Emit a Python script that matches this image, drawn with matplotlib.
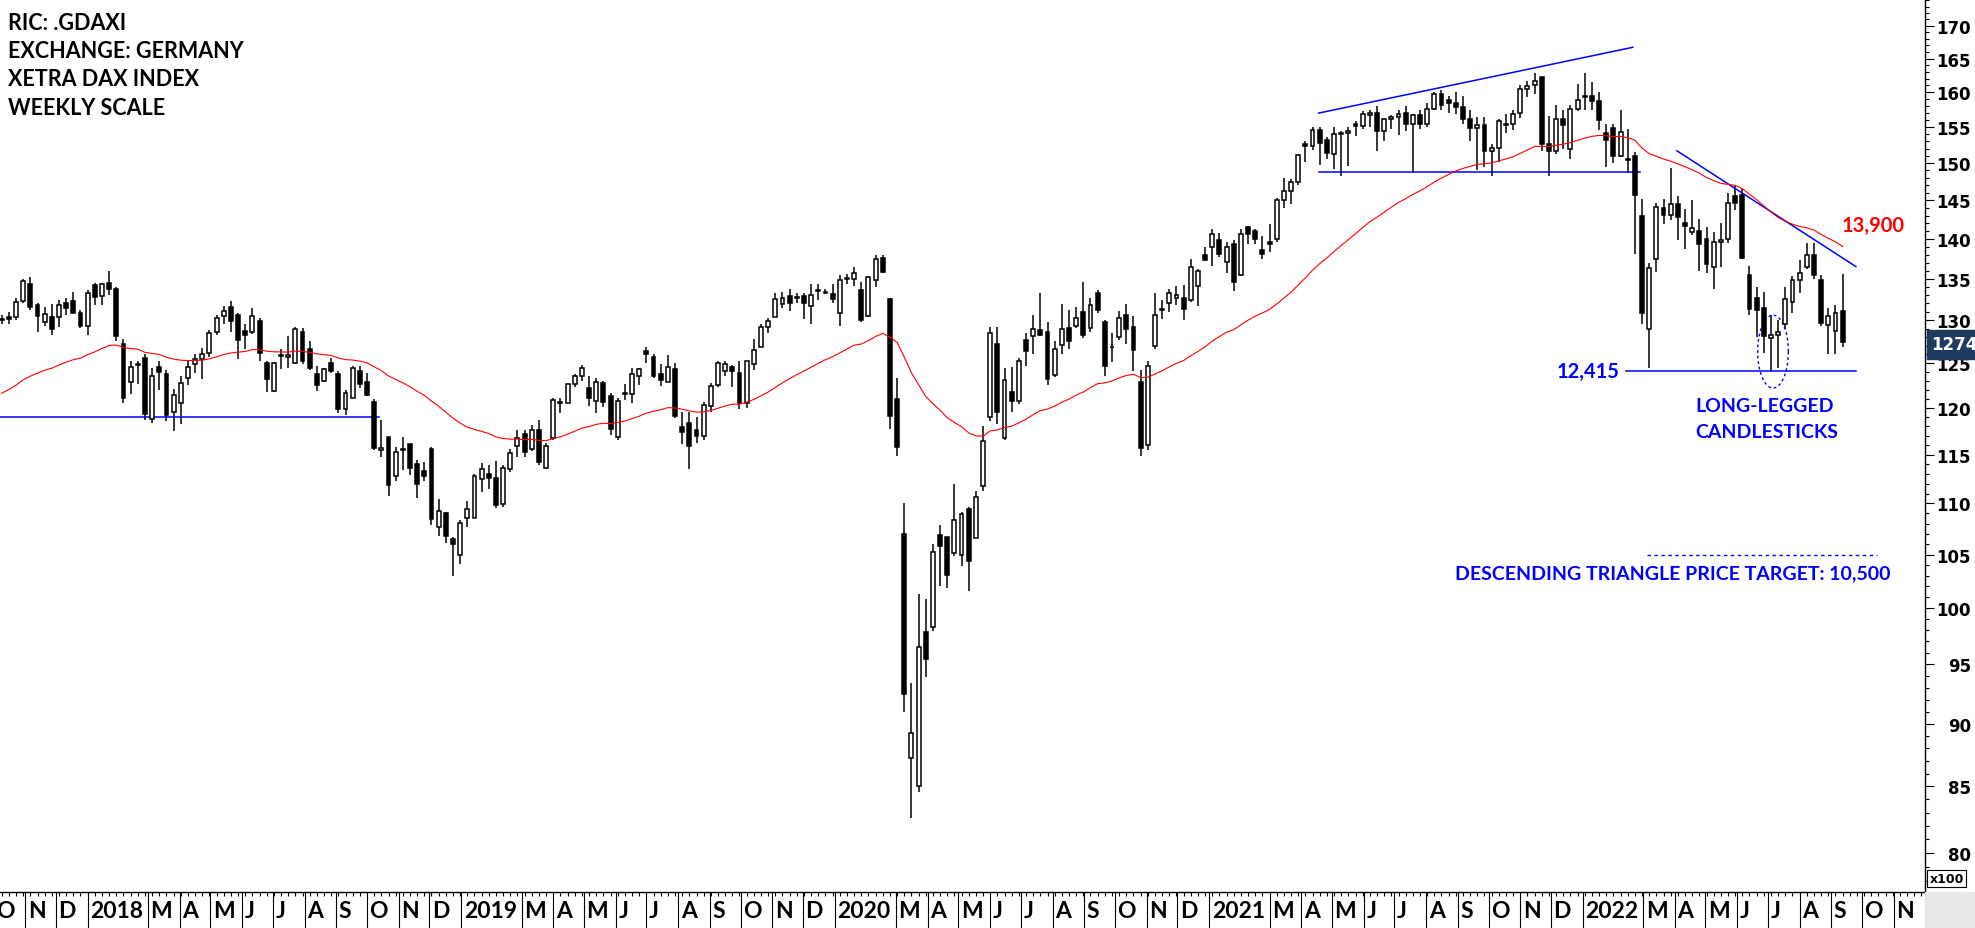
import numpy as np
import pandas as pd
import matplotlib
matplotlib.use("Agg")
import matplotlib.pyplot as plt
import matplotlib.dates as mdates
import matplotlib.transforms as mtransforms
from matplotlib.ticker import FixedLocator, NullFormatter
from matplotlib.patches import Rectangle

# ---------------- data (DAX weekly, index points / 100) ----------------
first_week = "2017-10-09"

opens = [
    # 2017
    130.0, 130.4, 130.4, 132.3, 134.4, 131.8, 129.8, 130.4, 130.4, 132.1, 132.3, 130.8,
    # 2018
    129.3, 134.2, 132.9, 134.5, 133.8, 127.2, 122.9, 124.9, 125.6, 118.8, 124.6, 123.8, 119.6,
    120.6, 123.3, 124.9, 125.5, 126.2, 128.6, 130.5, 131.6, 130.6, 128.7, 128.6, 129.9, 125.0,
    121.9, 125.8, 125.7, 125.0, 128.6, 126.6, 123.8, 123.0, 125.0, 123.8, 119.9, 121.1, 124.1,
    122.9, 120.7, 115.5, 116.9, 112.8, 115.5, 116.1, 114.0, 113.3, 115.6, 107.7, 109.0, 106.5,
    # 2019
    105.0, 108.6, 108.6, 112.5, 113.0, 112.6, 109.9, 113.5, 115.9, 117.2, 115.6, 117.6, 113.6,
    116.8, 120.5, 120.6, 122.6, 123.5, 122.2, 120.8, 122.8, 121.3, 116.9, 121.7, 121.5, 123.5,
    126.4, 125.7, 123.8, 122.9, 124.3, 117.9, 118.4, 117.6, 117.0, 120.2, 122.5, 124.1, 124.6,
    123.9, 120.5, 124.9, 126.9, 129.2, 130.4, 131.9, 132.9, 132.6, 132.9, 131.7, 133.5, 133.3,
    # 2020
    133.1, 130.8, 135.0, 135.0, 133.6, 130.5, 134.8, 137.6, 132.5, 121.0, 107.0, 87.2, 85.0,
    97.8, 98.3, 106.9, 106.7, 105.1, 105.0, 109.4, 106.6, 111.8, 119.0, 127.2, 116.8, 121.8,
    120.8, 127.7, 128.1, 128.8, 128.6, 123.7, 127.1, 129.1, 129.3, 131.0, 129.1, 133.3, 129.8,
    126.9, 128.0, 130.6, 129.2, 122.9, 116.0, 127.0, 131.2, 132.1, 132.7, 132.6, 132.4, 134.1,
    137.9,
    # 2021
    138.9, 139.9, 137.1, 139.4, 135.5, 141.5, 141.0, 138.6, 139.6, 140.0, 145.0, 146.2, 147.5,
    152.6, 152.3, 154.6, 153.2, 151.3, 154.0, 154.2, 155.5, 155.2, 156.7, 157.0, 154.5, 156.1,
    156.5, 157.0, 155.4, 156.7, 155.4, 157.6, 159.8, 158.9, 158.5, 157.8, 156.1, 154.9, 155.3,
    151.6, 152.1, 155.3, 155.4, 157.0, 160.5, 161.0, 162.2, 152.6, 151.7, 156.2, 152.0, 157.6,
    # 2022
    159.3, 159.5, 158.8, 154.2, 154.9, 151.0, 150.6, 151.0, 143.0, 128.9, 137.5, 144.0, 143.1,
    144.5, 142.0, 140.9, 141.0, 140.0, 136.5, 139.6, 140.0, 145.6, 145.7, 135.5, 132.6, 131.5,
    127.9, 128.2, 129.6, 132.2, 134.8, 136.5, 138.0, 134.8, 129.4, 128.7, 131.1,
]

highs = [
    130.6, 131.0, 132.6, 135.0, 135.2, 132.0, 131.6, 131.9, 132.4, 132.7, 133.4, 131.2,
    133.6, 134.5, 134.5, 136.0, 134.0, 127.8, 125.2, 125.3, 126.1, 124.4, 125.2, 124.2, 122.1,
    123.6, 125.2, 126.0, 126.7, 128.8, 130.6, 131.7, 132.3, 130.8, 129.6, 131.5, 130.3, 125.2,
    125.1, 126.6, 128.1, 129.2, 129.1, 127.5, 124.7, 124.5, 125.6, 124.1, 122.0, 124.7, 124.7,
    123.9, 121.0, 118.7, 116.9, 115.8, 116.9, 116.1, 114.4, 114.2, 115.8, 110.4, 109.1, 106.7,
    108.4, 110.2, 113.0, 114.1, 113.9, 114.3, 113.9, 115.6, 117.6, 117.6, 118.1, 118.7, 116.2,
    121.1, 121.1, 122.7, 123.8, 124.8, 123.6, 123.3, 123.0, 121.7, 121.1, 122.6, 124.5, 124.5,
    126.8, 126.1, 124.9, 125.9, 125.0, 119.6, 119.6, 119.0, 120.7, 122.8, 125.2, 125.2, 124.8,
    125.2, 125.2, 127.8, 129.5, 130.2, 133.3, 133.4, 133.7, 133.2, 133.3, 134.3, 134.3, 133.8,
    134.3, 135.4, 135.6, 136.5, 134.6, 135.3, 138.0, 138.0, 132.6, 123.3, 110.0, 93.4, 101.3,
    100.8, 106.0, 107.9, 106.7, 112.0, 109.1, 109.6, 111.3, 118.0, 129.2, 129.2, 124.4, 124.6,
    125.6, 128.5, 130.6, 133.2, 129.8, 127.5, 131.9, 131.2, 131.6, 134.6, 132.6, 133.6, 130.0,
    128.5, 131.1, 131.9, 130.5, 124.2, 125.3, 133.3, 132.4, 133.7, 134.1, 134.2, 137.5, 136.2,
    138.9,
    141.3, 140.7, 139.6, 139.8, 141.3, 141.6, 141.3, 140.4, 141.9, 145.3, 148.0, 147.9, 151.3,
    153.0, 155.0, 155.0, 153.6, 155.0, 154.4, 155.0, 155.8, 157.3, 157.4, 158.0, 156.3, 156.7,
    157.4, 158.0, 156.8, 157.5, 158.4, 160.0, 160.3, 159.5, 160.0, 159.5, 157.5, 156.5, 156.5,
    152.6, 156.2, 156.8, 157.4, 161.0, 161.7, 162.9, 162.3, 156.6, 158.2, 157.5, 158.1, 161.2,
    162.9, 161.5, 160.0, 155.5, 155.5, 157.4, 154.8, 151.5, 145.2, 137.0, 144.6, 145.2, 149.3,
    145.6, 143.8, 145.0, 142.5, 141.5, 140.9, 142.0, 146.0, 147.1, 146.5, 136.6, 134.0, 133.4,
    130.6, 130.0, 134.0, 135.3, 137.3, 139.5, 139.5, 135.5, 131.5, 131.8, 135.6,
]

lows = [
    129.5, 129.6, 130.0, 132.0, 131.2, 128.6, 129.3, 128.3, 129.2, 130.6, 130.8, 129.1,
    128.2, 131.8, 131.8, 133.0, 127.5, 120.6, 121.5, 122.6, 118.7, 118.4, 122.0, 118.6, 117.5,
    118.3, 122.5, 123.9, 123.2, 125.7, 128.3, 129.5, 128.6, 125.5, 126.6, 128.4, 125.3, 121.8,
    121.8, 124.3, 124.5, 124.9, 124.9, 124.2, 121.9, 122.9, 123.9, 119.5, 119.2, 121.1, 122.2,
    121.3, 115.5, 114.8, 110.8, 112.3, 113.4, 112.9, 110.5, 112.3, 107.9, 106.8, 106.1, 103.0,
    104.1, 107.7, 108.6, 111.2, 111.5, 109.5, 109.6, 113.2, 114.8, 114.8, 115.4, 113.9, 113.5,
    116.6, 119.5, 120.5, 122.3, 123.0, 120.2, 119.5, 120.1, 117.1, 116.6, 120.9, 120.6, 122.5,
    125.0, 123.3, 122.4, 122.9, 118.9, 116.1, 113.5, 116.2, 116.6, 119.6, 122.3, 123.6, 122.3,
    119.9, 120.0, 124.2, 126.8, 128.5, 130.4, 131.5, 131.1, 132.1, 130.1, 129.6, 132.4, 133.1,
    132.0, 129.3, 134.3, 134.1, 129.8, 130.4, 134.0, 135.7, 117.7, 114.9, 91.0, 82.6, 84.6,
    93.9, 97.9, 102.0, 101.8, 104.9, 103.9, 101.6, 106.6, 111.3, 118.6, 118.3, 116.5, 119.6,
    120.4, 124.7, 126.0, 128.1, 122.5, 123.4, 126.1, 126.6, 129.1, 127.9, 128.6, 130.9, 123.5,
    125.1, 127.7, 127.2, 124.1, 114.9, 115.5, 126.6, 130.1, 131.0, 131.8, 130.0, 132.2, 131.7,
    137.2,
    136.6, 137.7, 135.7, 133.5, 135.3, 139.3, 139.4, 137.4, 138.3, 139.6, 144.0, 144.5, 147.0,
    150.2, 151.8, 149.8, 150.6, 149.2, 148.2, 149.6, 153.8, 154.8, 155.0, 151.7, 153.0, 154.8,
    153.9, 154.5, 148.6, 154.7, 155.0, 157.4, 157.5, 157.0, 156.9, 155.5, 153.0, 149.0, 149.5,
    148.2, 150.1, 154.2, 154.6, 156.3, 159.3, 159.7, 151.6, 148.2, 151.2, 151.9, 150.6, 157.3,
    157.5, 157.5, 154.6, 149.5, 150.0, 150.8, 148.6, 138.1, 129.5, 124.4, 135.8, 141.9, 142.4,
    139.8, 138.7, 140.5, 135.9, 135.7, 133.8, 136.5, 139.5, 143.7, 137.4, 130.6, 128.0, 126.2,
    124.1, 124.5, 129.0, 130.9, 133.3, 136.2, 135.0, 129.3, 126.0, 126.0, 126.9,
]

closes = [
    130.1, 130.1, 132.2, 134.7, 131.6, 130.5, 130.7, 128.9, 131.8, 131.4, 130.9, 129.3,
    133.3, 132.8, 134.3, 133.8, 128.1, 121.1, 124.6, 124.8, 119.3, 123.6, 124.0, 119.2, 121.4,
    122.8, 124.6, 125.5, 126.0, 128.5, 130.2, 131.1, 129.9, 127.7, 128.2, 130.5, 126.2, 123.2,
    125.0, 125.9, 125.9, 128.9, 125.2, 124.5, 122.5, 124.3, 124.1, 119.9, 121.7, 124.5, 122.7,
    121.4, 115.7, 115.7, 111.9, 115.3, 115.6, 113.6, 112.0, 112.8, 108.5, 109.2, 106.8, 106.0,
    108.1, 109.4, 112.8, 113.5, 112.6, 109.8, 113.6, 115.2, 116.8, 115.3, 117.6, 114.2, 115.9,
    120.9, 120.7, 122.6, 123.6, 124.5, 121.1, 122.9, 120.7, 117.7, 120.8, 121.5, 123.8, 124.3,
    126.0, 123.5, 123.1, 124.6, 119.1, 117.4, 115.9, 117.0, 120.3, 122.4, 125.0, 124.9, 124.1,
    120.5, 125.2, 126.5, 129.2, 129.9, 132.5, 132.6, 132.1, 132.8, 132.1, 133.0, 133.6, 133.4,
    132.5, 134.8, 135.1, 135.7, 130.0, 135.2, 137.4, 135.8, 119.1, 115.8, 92.5, 89.2, 96.5,
    95.5, 105.2, 105.8, 103.1, 108.4, 108.9, 104.4, 110.7, 116.4, 128.5, 119.6, 123.1, 120.8,
    125.3, 126.4, 129.0, 128.3, 123.2, 126.6, 128.9, 127.6, 130.2, 128.3, 131.8, 131.2, 124.7,
    126.8, 130.3, 128.9, 126.5, 115.7, 124.7, 130.6, 131.3, 133.3, 133.0, 131.3, 136.4, 136.0,
    137.3,
    140.6, 138.1, 138.9, 134.6, 140.6, 140.6, 140.0, 138.1, 139.3, 145.0, 146.2, 147.5, 151.1,
    152.3, 154.6, 152.8, 151.4, 154.0, 154.2, 154.4, 155.2, 156.9, 157.0, 154.5, 156.1, 156.5,
    156.9, 155.4, 156.7, 155.4, 157.6, 159.8, 158.1, 158.5, 157.8, 156.1, 154.9, 155.3, 151.6,
    152.1, 155.9, 155.5, 156.9, 160.5, 160.9, 161.6, 152.6, 151.7, 156.2, 155.3, 157.6, 158.9,
    159.5, 158.8, 156.0, 153.2, 151.0, 154.3, 150.4, 145.7, 130.9, 136.3, 144.1, 143.1, 144.5,
    142.8, 141.6, 141.4, 139.3, 136.8, 139.6, 139.8, 144.6, 144.6, 137.6, 131.3, 131.2, 128.1,
    128.3, 128.6, 132.5, 134.8, 135.7, 137.95, 135.4, 129.7, 130.5, 130.9, 127.4,
]

# weekly closes Jul 2016 - Oct 2017, only used to seed the moving average
closes_before = [
    96.3, 100.7, 101.5, 103.4, 103.7, 107.1, 105.4, 105.9, 106.8, 105.7, 102.8, 106.3, 105.1,
    104.9, 105.8, 107.1, 107.0, 102.6, 106.7, 106.6, 107.0, 105.1, 112.0, 114.0, 114.5, 114.8,
    116.0, 116.3, 116.3, 118.1, 116.5, 116.7, 117.6, 118.0, 120.7, 119.6, 121.0, 120.6, 122.6,
    122.3, 121.1, 120.5, 124.4, 127.2, 127.7, 126.4, 126.0, 128.2, 128.2, 127.5, 127.3, 123.3,
    123.9, 126.3, 122.4, 121.6, 123.0, 120.1, 121.7, 121.7, 121.4, 123.0, 125.2, 125.9, 128.3,
    129.6,
]

header_lines = ["RIC: .GDAXI", "EXCHANGE: GERMANY", "XETRA DAX INDEX", "WEEKLY SCALE"]
y_ticks = list(range(80, 171, 5))
last_price = "1274"

# ---------------- figure ----------------
W, H = 1975, 929
PLOT_W, PLOT_H = 1925, 893
fig = plt.figure(figsize=(W / 100, H / 100), dpi=100)
ax = fig.add_axes([0, 1 - PLOT_H / H, PLOT_W / W, PLOT_H / H])

label_font = ["Lato", "DejaVu Sans"]
blue = "#0000ff"


def d(s):
    return mdates.date2num(pd.Timestamp(s))


weeks = pd.date_range(first_week, periods=len(closes), freq="7D")
x = mdates.date2num(weeks)
o = np.array(opens)
h = np.array(highs)
l = np.array(lows)
c = np.array(closes)
up = c >= o

# candles
ax.vlines(x, l, h, color="black", lw=1.1, zorder=2)
ax.bar(x[up], (c - o)[up], bottom=o[up], width=3.8, color="white",
       edgecolor="black", lw=1.1, zorder=3)
ax.bar(x[~up], (o - c)[~up], bottom=c[~up], width=3.8, color="black",
       edgecolor="black", lw=1.1, zorder=3)

# 40 week exponential moving average
ema = pd.Series(closes_before + closes).ewm(span=40, adjust=False).mean().values
ax.plot(x, ema[-len(closes):], color="red", lw=0.8, zorder=4)

# scales
px_per_day = 1.0233
x_left = x[0] - 1.7 / px_per_day
x_right = x_left + PLOT_W / px_per_day
ax.set_xlim(x_left, x_right)
ax.set_yscale("log")
ax.set_ylim(77.2, 174.2)

# ---------------- chart annotations ----------------
ax.plot([x_left, d("2018-10-13")], [119.0, 119.0], color=blue, lw=1.1)
ax.plot([d("2021-04-18"), d("2022-02-19")], [157.0, 166.7], color=blue, lw=1.1)
ax.plot([d("2021-04-18"), d("2022-02-26")], [148.8, 148.8], color=blue, lw=1.1)
ax.plot([d("2022-04-03"), d("2022-09-25")], [151.7, 136.5], color=blue, lw=1.1)
ax.plot([d("2022-02-12"), d("2022-09-25")], [124.15, 124.15], color=blue, lw=1.1)
ax.plot([d("2022-03-05"), d("2022-10-16")], [105.0, 105.0], color=blue, lw=1.0,
        ls=(0, (2.5, 2.5)))

# dotted ellipse round the long-legged candles
t = np.linspace(0, 2 * np.pi, 200)
yc = np.log(np.sqrt(130.6 * 122.2))
b = (np.log(130.6) - np.log(122.2)) / 2
ax.plot(d("2022-07-06") + 15.0 * np.cos(t), np.exp(yc + b * np.sin(t)),
        color=blue, lw=1.0, ls=(0, (2, 2)))

ax.text(d("2022-02-06"), 124.15, "12,415", color=blue, ha="right", va="center",
        fontsize=14.5, fontweight="bold", family=label_font)
ax.text(d("2022-09-11"), 141.8, "13,900", color="red", ha="left", va="center",
        fontsize=14.5, fontweight="bold", family=label_font)
ax.text(d("2022-04-21"), 120.3, "LONG-LEGGED", color=blue, ha="left", va="center",
        fontsize=14, fontweight="bold", family=label_font)
ax.text(d("2022-04-21"), 117.5, "CANDLESTICKS", color=blue, ha="left", va="center",
        fontsize=14, fontweight="bold", family=label_font)
ax.text(d("2022-03-30"), 103.3, "DESCENDING TRIANGLE PRICE TARGET: 10,500", color=blue,
        ha="center", va="center", fontsize=14, fontweight="bold", family=label_font)

for i, line in enumerate(header_lines):
    fig.text(8 / W, 1 - (23 + 28.5 * i) / H, line, ha="left", va="center",
             fontsize=15.5, fontweight="bold", family=label_font)

# ---------------- axes styling ----------------
for side in ["top", "left"]:
    ax.spines[side].set_visible(False)
for side in ["right", "bottom"]:
    ax.spines[side].set_linewidth(1.0)

# price axis on the right
ax.yaxis.tick_right()
ax.yaxis.set_major_locator(FixedLocator(y_ticks))
ax.yaxis.set_minor_locator(FixedLocator(range(78, 175)))
ax.yaxis.set_minor_formatter(NullFormatter())
ax.set_yticklabels([str(v) for v in y_ticks])
ax.tick_params(axis="y", which="major", length=6.5, width=0.8, pad=26.6,
               labelsize=12)
ax.tick_params(axis="y", which="minor", length=3, width=0.8)
for lab in ax.get_yticklabels():
    lab.set_horizontalalignment("right")
    lab.set_fontweight("bold")

# time axis: weekly ticks, month separators, month letters
all_weeks = pd.date_range("2017-09-25", "2022-12-12", freq="7D")
ax.xaxis.set_minor_locator(FixedLocator(mdates.date2num(all_weeks)))
months = pd.date_range("2017-10-01", "2022-11-01", freq="MS")
seps = [m for m in months if m.month != 2]
ax.xaxis.set_major_locator(FixedLocator(mdates.date2num(seps)))
ax.xaxis.set_major_formatter(NullFormatter())
ax.xaxis.set_minor_formatter(NullFormatter())
ax.tick_params(axis="x", which="major", length=26, width=0.8, direction="out")
ax.tick_params(axis="x", which="minor", length=3, width=0.8, direction="out")

letters = "JFMAMJJASOND"
trans = mtransforms.blended_transform_factory(ax.transData, ax.transAxes)
for m in seps:
    lab = str(m.year) if m.month == 1 else letters[m.month - 1]
    ax.text(mdates.date2num(m) + 2.5, -0.021, lab, transform=trans, ha="left",
            va="center", fontsize=16.5, fontweight="bold", family=label_font,
            clip_on=False)

# right/bottom corner, last price box, scale note
fig.patches.append(Rectangle((PLOT_W / W, 0), (W - PLOT_W) / W, (H - PLOT_H) / H,
                             transform=fig.transFigure, color="#e8e8e8", zorder=0))
fig.patches.append(Rectangle((1927 / W, 1 - 360 / H), 48 / W, 29 / H,
                             transform=fig.transFigure, color="#1f3a5f", zorder=5))
fig.text(1931 / W, 1 - 345.5 / H, last_price, color="white", ha="left", va="center",
         fontsize=12, fontweight="bold", zorder=6)
fig.text(1946.5 / W, 1 - 879.5 / H, "x100", ha="center", va="center", fontsize=9,
         fontweight="bold",
         bbox=dict(boxstyle="square,pad=0.15", fc="white", ec="black", lw=0.8))

fig.savefig("out.png", dpi=100)
